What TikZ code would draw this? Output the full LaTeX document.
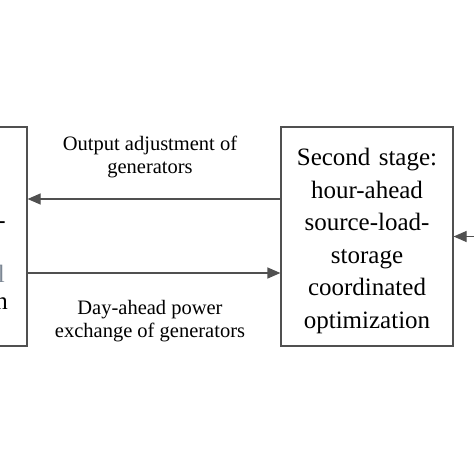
\documentclass[tikz,border=0pt]{standalone}
\usepackage{fontspec}
\setmainfont{Liberation Serif}
\usetikzlibrary{arrows.meta}
\definecolor{edgegray}{HTML}{505050}
\definecolor{slate}{HTML}{7C8794}
\begin{document}
\begin{tikzpicture}[x=1pt,y=-1pt,>={Triangle[length=13pt,width=11pt]}]
\useasboundingbox (0,0) rectangle (474,474);
\fill[white] (0,0) rectangle (474,474);
\begin{scope}
\clip (0,0) rectangle (474,474);
\node[draw=edgegray, line width=1.2pt, minimum width=172pt, minimum height=219pt] (first) at (-59,236.5) {};
\node[draw=edgegray, line width=1.2pt, minimum width=172pt, minimum height=219pt, text width=165pt, align=center, font=\fontsize{25}{32.5}\selectfont] (second) at (367,236.5) {\rule{0pt}{26pt}Second stage:\\hour-ahead\\source-load-\\storage\\coordinated\\optimization};
\node[anchor=base east, inner sep=0pt, font=\fontsize{25}{30}\selectfont] (firsthyph) at (6,228) {-};
\node[anchor=base east, inner sep=0pt, text=slate, font=\fontsize{25}{30}\selectfont] (firstl) at (5,282) {l};
\node[anchor=base east, inner sep=0pt, font=\fontsize{25}{30}\selectfont] (firstn) at (8,309) {n};
\coordinate (grid) at (490,236.5);
\draw[->, edgegray, line width=1.2pt] ([yshift=37.5pt]second.west) -- ([yshift=37.5pt]first.east);
\draw[->, edgegray, line width=1.2pt] ([yshift=-36.5pt]first.east) -- ([yshift=-36.5pt]second.west);
\draw[->, edgegray, line width=1.2pt] (grid) -- (second.east);
\node[align=center, font=\fontsize{20.5}{23}\selectfont] (adjust) at (150,157) {Output adjustment of\\generators};
\node[align=center, font=\fontsize{20.5}{23}\selectfont] (exchange) at (150,321) {Day-ahead power\\exchange of generators};
\end{scope}
\end{tikzpicture}
\end{document}
